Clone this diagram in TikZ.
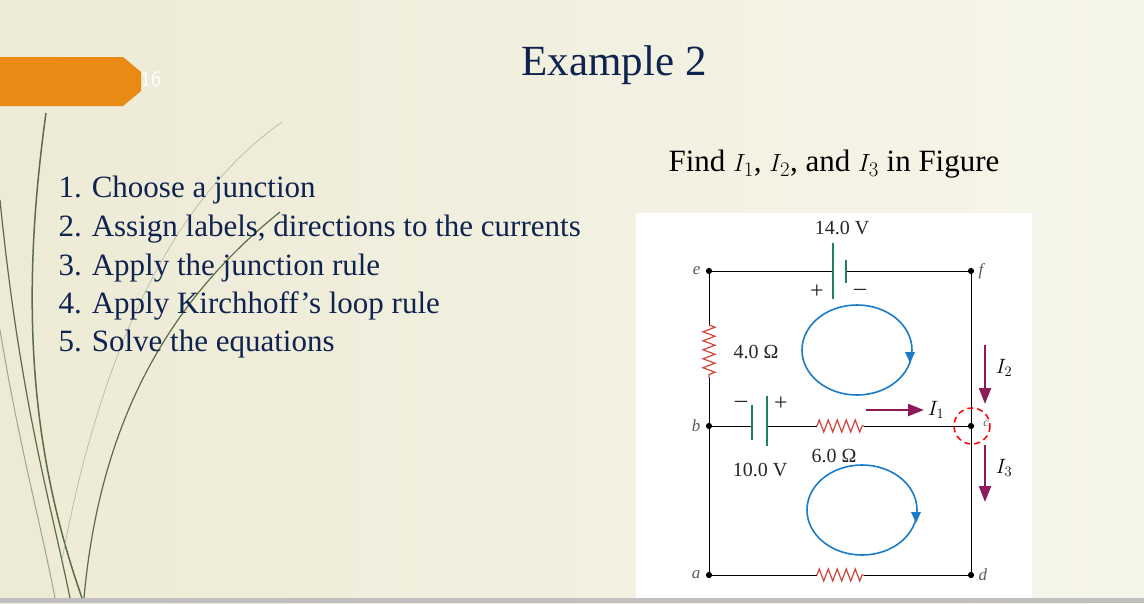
\documentclass[tikz,border=0pt]{standalone}
\usepackage{fontspec}
\setmainfont{Liberation Serif}
\usetikzlibrary{arrows.meta,decorations.pathmorphing}
\definecolor{cream}{HTML}{EDEBD5}
\definecolor{creamr}{HTML}{F6F5EA}
\definecolor{navy}{HTML}{0F2350}
\definecolor{orng}{HTML}{E98A14}
\definecolor{grass}{HTML}{5C6B48}
\definecolor{batt}{HTML}{1E8060}
\definecolor{resc}{HTML}{D0443A}
\definecolor{curr}{HTML}{8E1A5A}
\definecolor{loopc}{HTML}{1A7CC8}
\tikzset{
  wire/.style={line width=1pt,black},
  dotn/.style={circle,fill=black,inner sep=2.2pt},
  lbl/.style={font=\itshape\fontsize{17}{17}\selectfont,text=black!65},
  ilbl/.style={font=\itshape\fontsize{21}{21}\selectfont,text=black},
  val/.style={font=\fontsize{20}{20}\selectfont,text=black!85},
  pm/.style={font=\fontsize{24}{24}\selectfont,text=black!85},
  res/.style={draw=resc,line width=1.2pt,decorate,decoration={zigzag,segment length=9pt,amplitude=6pt}},
  plate/.style={draw=batt,line width=2.6pt},
  iarr/.style={draw=curr,line width=2.4pt,-{Triangle[length=16pt,width=12pt]}},
  loopst/.style={draw=loopc,line width=1.6pt},
  item/.style={anchor=base west,font=\fontsize{31}{31}\selectfont,text=navy},
}
\begin{document}
\begin{tikzpicture}[x=1pt,y=-1pt]
\useasboundingbox (0,0) rectangle (1144,603);
\shade[left color=cream,right color=creamr] (0,0) rectangle (1144,603);
\fill[black!25] (0,598) rectangle (1144,603);
% grass
\draw[grass,line width=1.5pt] (46,113) .. controls (20,300) and (30,450) .. (82,598);
\draw[grass,line width=1.2pt] (0,200) .. controls (20,400) and (50,500) .. (70,598);
\draw[grass!60,line width=1pt] (0,330) .. controls (20,450) and (40,520) .. (55,598);
\draw[grass,line width=1.2pt] (84,598) .. controls (100,420) and (170,300) .. (280,212);
\draw[grass!50,line width=0.6pt] (62,560) .. controls (110,300) and (200,180) .. (282,122);
% tab
\fill[orng] (0,57) -- (123,57) -- (141,72) -- (141,91) -- (123,106) -- (0,106) -- cycle;
\node[text=white,font=\sffamily\fontsize{22}{22}\selectfont] (pg) at (151,79) {16};
\node[font=\fontsize{43}{43}\selectfont,text=navy] (title) at (614,65) {Example 2};
\node[item] (i1) at (55,197) {1.\hspace{10pt}Choose a junction};
\node[item] (i2) at (55,236) {2.\hspace{10pt}Assign labels, directions to the currents};
\node[item] (i3) at (55,275) {3.\hspace{10pt}Apply the junction rule};
\node[item] (i4) at (55,313) {4.\hspace{10pt}Apply Kirchhoff’s loop rule};
\node[item] (i5) at (55,351) {5.\hspace{10pt}Solve the equations};
\node[font=\fontsize{31}{31}\selectfont,text=black] (find) at (834,164) {Find $I_1$, $I_2$, and $I_3$ in Figure};
% circuit panel
\fill[white] (636,213) rectangle (1032,598);
\node[dotn] (e) at (709,271) {};
\node[dotn] (f) at (971,271) {};
\node[dotn] (b) at (709,426) {};
\node[dotn] (c) at (971,426) {};
\node[dotn] (a) at (709,575) {};
\node[dotn] (d) at (971,575) {};
\node[lbl,left=5pt] at (e) {e};
\node[lbl,right=4pt] at (f) {f};
\node[lbl,left=5pt] at (b) {b};
\node[lbl,left=5pt] at (a) {a};
\node[lbl,right=4pt] at (d) {d};
\node[lbl,font=\itshape\fontsize{12}{12}\selectfont] at (986,424) {c};
\coordinate (t1) at (833,271); \coordinate (t2) at (846,271);
\coordinate (r1) at (709,325); \coordinate (r2) at (709,378);
\coordinate (m1) at (752,426); \coordinate (m2) at (767,426);
\coordinate (s1) at (817,426); \coordinate (s2) at (864,426);
\coordinate (u1) at (817,575); \coordinate (u2) at (864,575);
\draw[wire] (e) -- (t1); \draw[wire] (t2) -- (f);
\draw[wire] (f) -- (c) -- (d);
\draw[wire] (e) -- (r1); \draw[wire] (r2) -- (b) -- (a);
\draw[wire] (b) -- (m1); \draw[wire] (m2) -- (s1); \draw[wire] (s2) -- (c);
\draw[wire] (a) -- (u1); \draw[wire] (u2) -- (d);
\draw[res] (r1) -- (r2);
\draw[res] (s1) -- (s2);
\draw[res] (u1) -- (u2);
\draw[plate] (833,243) -- (833,299);
\draw[plate] (846,260) -- (846,283);
\draw[plate] (752,405) -- (752,440);
\draw[plate] (767,396) -- (767,446);
\node[pm] at (817,292) {+};
\node[pm] at (860,292) {--};
\node[pm] at (741,404) {--};
\node[pm] at (781,404) {+};
\node[val] (v14) at (842,228) {14.0 V};
\node[val] (r4) at (756,352) {4.0 Ω};
\node[val] (v10) at (760,470) {10.0 V};
\node[val] (r6) at (834,456) {6.0 Ω};
\draw[iarr] (866,410) -- (924,410);
\node[ilbl] at (936,410) {$I_1$};
\draw[iarr] (985,345) -- (985,404);
\node[ilbl] at (1004,368) {$I_2$};
\draw[iarr] (985,445) -- (985,502);
\node[ilbl] at (1004,468) {$I_3$};
\draw[red,line width=1.5pt,dash pattern=on 6pt off 4pt] (972,426) circle (18);
\draw[loopst] (857,350) ellipse (55 and 45);
\fill[loopc] (910,363) -- (905,352) -- (915,352) -- cycle;
\draw[loopst] (862,510) ellipse (55 and 45);
\fill[loopc] (916,523) -- (911,512) -- (921,512) -- cycle;
\end{tikzpicture}
\end{document}
